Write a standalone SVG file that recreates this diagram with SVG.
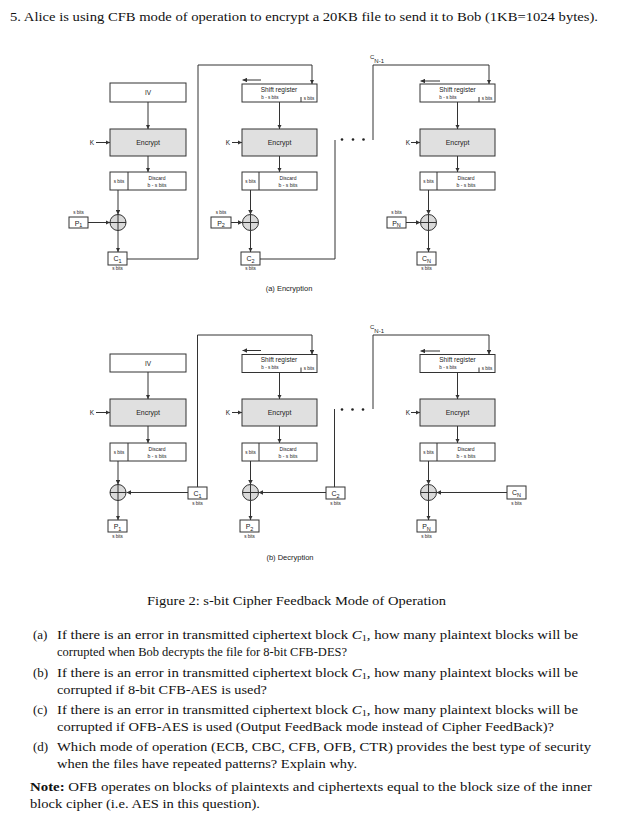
<svg xmlns="http://www.w3.org/2000/svg" width="626" height="823" viewBox="0 0 626 823">
<style>
.bg{fill:#fff}
.box{fill:#fff;stroke:#333;stroke-width:1}
.enc{fill:#e0e0e0;stroke:#333;stroke-width:1}
.ln{fill:none;stroke:#333;stroke-width:1}
.arr{marker-end:url(#ah)}
.xor{fill:#d9d9d9;stroke:#333;stroke-width:1}
.t{font-family:"Liberation Sans",Arial,sans-serif;fill:#222;text-anchor:middle}
.f7{font-size:7px}
.f65{font-size:6.5px}
.f5{font-size:5px}
.f45{font-size:4.6px}
.body{font-family:"Liberation Serif","Times New Roman",serif;font-size:13px;fill:#111}
</style>
<defs>
<marker id="ah" viewBox="0 0 6 6" refX="6" refY="3" markerWidth="4.5" markerHeight="4.5" markerUnits="userSpaceOnUse" orient="auto">
<path d="M0,0 L6,3 L0,6 z" fill="#333"/>
</marker>
</defs>
<rect class="bg" x="0" y="0" width="626" height="823"/>

<text class="body" x="10" y="21" textLength="588" lengthAdjust="spacingAndGlyphs">5. Alice is using CFB mode of operation to encrypt a 20KB file to send it to Bob (1KB=1024 bytes).</text>

<!-- ===== Encryption ===== -->
<g id="enc-col1">
<g id="enc-iv"><rect class="box" x="110" y="83" width="76" height="19"/><text class="t f65" x="148" y="95">IV</text></g>
<g id="enc-k1"><text class="t f65" x="92" y="145">K</text></g>
<g id="enc-encrypt1"><rect class="enc" x="110" y="129" width="76" height="27"/><text class="t f7" x="148" y="145">Encrypt</text></g>
<g id="enc-discard1"><rect class="box" x="110" y="172" width="76" height="18"/><line class="ln" x1="128" y1="172" x2="128" y2="190"/><text class="t f45" x="119" y="183">s bits</text><text class="t f5" x="157" y="179.5">Discard</text><text class="t f5" x="157" y="186.5">b - s bits</text></g>
<g id="enc-xor1"><circle class="xor" cx="118" cy="222.5" r="8"/><line class="ln" x1="110" y1="222.5" x2="126" y2="222.5"/><line class="ln" x1="118" y1="214.5" x2="118" y2="230.5"/></g>
<g id="enc-p1"><rect class="box" x="69" y="217" width="19" height="11"/><text class="t f7" x="78.5" y="225.5">P<tspan font-size="5.5" dy="1.5">1</tspan></text><text class="t f45" x="78.5" y="213.5">s bits</text></g>
<g id="enc-c1"><rect class="box" x="108" y="252" width="19" height="13"/><text class="t f7" x="117.5" y="261">C<tspan font-size="5.5" dy="2">1</tspan></text><text class="t f45" x="117.5" y="270">s bits</text></g>
</g>

<g id="enc-col2">
<g id="enc-sr2"><rect class="box" x="242" y="84" width="75" height="18"/><text class="t f65" x="279" y="91.5">Shift register</text><text class="t f45" x="270" y="98.5">b - s bits</text><line class="ln" x1="301" y1="97" x2="301" y2="102"/><text class="t f45" x="309" y="99.5">s bits</text></g>
<g id="enc-k2"><text class="t f65" x="228" y="145">K</text></g>
<g id="enc-encrypt2"><rect class="enc" x="242" y="129" width="75" height="27"/><text class="t f7" x="279.5" y="145">Encrypt</text></g>
<g id="enc-discard2"><rect class="box" x="242" y="172" width="75" height="18"/><line class="ln" x1="259" y1="172" x2="259" y2="190"/><text class="t f45" x="250.5" y="183">s bits</text><text class="t f5" x="288" y="179.5">Discard</text><text class="t f5" x="288" y="186.5">b - s bits</text></g>
<g id="enc-xor2"><circle class="xor" cx="250.5" cy="222.5" r="8"/><line class="ln" x1="242.5" y1="222.5" x2="258.5" y2="222.5"/><line class="ln" x1="250.5" y1="214.5" x2="250.5" y2="230.5"/></g>
<g id="enc-p2"><rect class="box" x="211" y="217" width="20" height="11"/><text class="t f7" x="221" y="225.5">P<tspan font-size="5.5" dy="1.5">2</tspan></text><text class="t f45" x="221" y="213.5">s bits</text></g>
<g id="enc-c2"><rect class="box" x="241" y="252" width="19" height="13"/><text class="t f7" x="250.5" y="261">C<tspan font-size="5.5" dy="2">2</tspan></text><text class="t f45" x="250.5" y="270">s bits</text></g>
</g>

<g id="enc-col3">
<g id="enc-cn1"><text class="t" font-size="6" x="377" y="59">C<tspan font-size="6" dy="3.5">N-1</tspan></text></g>
<g id="enc-sr3"><rect class="box" x="420" y="84" width="75" height="18"/><text class="t f65" x="457.5" y="91.5">Shift register</text><text class="t f45" x="448" y="98.5">b - s bits</text><line class="ln" x1="479" y1="97" x2="479" y2="102"/><text class="t f45" x="487" y="99.5">s bits</text></g>
<g id="enc-k3"><text class="t f65" x="408" y="145">K</text></g>
<g id="enc-encrypt3"><rect class="enc" x="420" y="129" width="75" height="27"/><text class="t f7" x="457.5" y="145">Encrypt</text></g>
<g id="enc-discard3"><rect class="box" x="420" y="172" width="75" height="18"/><line class="ln" x1="437" y1="172" x2="437" y2="190"/><text class="t f45" x="428.5" y="183">s bits</text><text class="t f5" x="466" y="179.5">Discard</text><text class="t f5" x="466" y="186.5">b - s bits</text></g>
<g id="enc-xor3"><circle class="xor" cx="428.5" cy="222.5" r="8"/><line class="ln" x1="420.5" y1="222.5" x2="436.5" y2="222.5"/><line class="ln" x1="428.5" y1="214.5" x2="428.5" y2="230.5"/></g>
<g id="enc-pn"><rect class="box" x="387" y="217" width="19" height="11"/><text class="t f7" x="396.5" y="225.5">P<tspan font-size="5.5" dy="1.5">N</tspan></text><text class="t f45" x="396.5" y="213.5">s bits</text></g>
<g id="enc-cn"><rect class="box" x="417" y="252" width="19" height="13"/><text class="t f7" x="426.5" y="261">C<tspan font-size="5.5" dy="2">N</tspan></text><text class="t f45" x="426.5" y="270">s bits</text></g>
</g>

<text class="t" font-size="7.5" x="289" y="291">(a) Encryption</text>

<g id="enc-connectors">
<path class="ln arr" d="M148,102 V129"/>
<path class="ln arr" d="M148,156 V172"/>
<path class="ln arr" d="M118,190 V214.5"/>
<path class="ln arr" d="M88,222.5 H110"/>
<path class="ln arr" d="M118,230.5 V252"/>
<path class="ln arr" d="M96,142.5 H110"/>
<path class="ln arr" d="M127,259 H198 V65 H312 V84"/>
<path class="ln arr" d="M261,80 H242.5"/>
<path class="ln arr" d="M279.5,102 V129"/>
<path class="ln arr" d="M279.5,156 V172"/>
<path class="ln arr" d="M250.5,190 V214.5"/>
<path class="ln arr" d="M231,222.5 H242.5"/>
<path class="ln arr" d="M250.5,230.5 V252"/>
<path class="ln arr" d="M232,142.5 H242"/>
<path class="ln" d="M260,259 H335 V140"/>
<circle cx="342" cy="139.5" r="1.3" fill="#222"/>
<circle cx="353" cy="139.5" r="1.3" fill="#222"/>
<circle cx="363.5" cy="139.5" r="1.3" fill="#222"/>
<path class="ln arr" d="M373,140 V65 H489 V84"/>
<path class="ln arr" d="M440,81 H420.5"/>
<path class="ln arr" d="M457.5,102 V129"/>
<path class="ln arr" d="M457.5,156 V172"/>
<path class="ln arr" d="M428.5,190 V214.5"/>
<path class="ln arr" d="M406,222.5 H420.5"/>
<path class="ln arr" d="M428.5,230.5 V252"/>
<path class="ln arr" d="M411,142.5 H420"/>
</g>

<!-- ===== Decryption ===== -->
<g id="dec-col1">
<g id="dec-iv"><rect class="box" x="110" y="354" width="76" height="18"/><text class="t f65" x="148" y="365.5">IV</text></g>
<g id="dec-k1"><text class="t f65" x="92" y="415">K</text></g>
<g id="dec-encrypt1"><rect class="enc" x="110" y="399" width="76" height="27"/><text class="t f7" x="148" y="415">Encrypt</text></g>
<g id="dec-discard1"><rect class="box" x="110" y="443" width="76" height="18"/><line class="ln" x1="128" y1="443" x2="128" y2="461"/><text class="t f45" x="119" y="454">s bits</text><text class="t f5" x="157" y="450.5">Discard</text><text class="t f5" x="157" y="457.5">b - s bits</text></g>
<g id="dec-xor1"><circle class="xor" cx="118" cy="492.5" r="8"/><line class="ln" x1="110" y1="492.5" x2="126" y2="492.5"/><line class="ln" x1="118" y1="484.5" x2="118" y2="500.5"/></g>
<g id="dec-c1"><rect class="box" x="188" y="487" width="19" height="12"/><text class="t f7" x="197.5" y="495.5">C<tspan font-size="5.5" dy="2">1</tspan></text><text class="t f45" x="197.5" y="504.5">s bits</text></g>
<g id="dec-p1"><rect class="box" x="108" y="520" width="19" height="12"/><text class="t f7" x="117.5" y="528.5">P<tspan font-size="5.5" dy="2">1</tspan></text><text class="t f45" x="117.5" y="537.5">s bits</text></g>
</g>

<g id="dec-col2">
<g id="dec-sr2"><rect class="box" x="242" y="354.5" width="75" height="18"/><text class="t f65" x="279" y="362">Shift register</text><text class="t f45" x="270" y="368.5">b - s bits</text><line class="ln" x1="301" y1="367.5" x2="301" y2="372.5"/><text class="t f45" x="309" y="370">s bits</text></g>
<g id="dec-k2"><text class="t f65" x="228" y="415">K</text></g>
<g id="dec-encrypt2"><rect class="enc" x="242" y="399" width="75" height="27"/><text class="t f7" x="279.5" y="415">Encrypt</text></g>
<g id="dec-discard2"><rect class="box" x="242" y="443" width="75" height="18"/><line class="ln" x1="259" y1="443" x2="259" y2="461"/><text class="t f45" x="250.5" y="454">s bits</text><text class="t f5" x="288" y="450.5">Discard</text><text class="t f5" x="288" y="457.5">b - s bits</text></g>
<g id="dec-xor2"><circle class="xor" cx="250.5" cy="492.5" r="8"/><line class="ln" x1="242.5" y1="492.5" x2="258.5" y2="492.5"/><line class="ln" x1="250.5" y1="484.5" x2="250.5" y2="500.5"/></g>
<g id="dec-c2"><rect class="box" x="326" y="487" width="19" height="12"/><text class="t f7" x="335.5" y="495.5">C<tspan font-size="5.5" dy="2">2</tspan></text><text class="t f45" x="335.5" y="504.5">s bits</text></g>
<g id="dec-p2"><rect class="box" x="240" y="520" width="19" height="12"/><text class="t f7" x="249.5" y="528.5">P<tspan font-size="5.5" dy="2">2</tspan></text><text class="t f45" x="249.5" y="537.5">s bits</text></g>
</g>

<g id="dec-col3">
<g id="dec-cn1"><text class="t" font-size="6" x="377" y="329">C<tspan font-size="6" dy="3.5">N-1</tspan></text></g>
<g id="dec-sr3"><rect class="box" x="420" y="354.5" width="75" height="18"/><text class="t f65" x="457.5" y="362">Shift register</text><text class="t f45" x="448" y="368.5">b - s bits</text><line class="ln" x1="479" y1="367.5" x2="479" y2="372.5"/><text class="t f45" x="487" y="370">s bits</text></g>
<g id="dec-k3"><text class="t f65" x="408" y="415">K</text></g>
<g id="dec-encrypt3"><rect class="enc" x="420" y="399" width="75" height="27"/><text class="t f7" x="457.5" y="415">Encrypt</text></g>
<g id="dec-discard3"><rect class="box" x="420" y="443" width="75" height="18"/><line class="ln" x1="437" y1="443" x2="437" y2="461"/><text class="t f45" x="428.5" y="454">s bits</text><text class="t f5" x="466" y="450.5">Discard</text><text class="t f5" x="466" y="457.5">b - s bits</text></g>
<g id="dec-xor3"><circle class="xor" cx="428.5" cy="492.5" r="8"/><line class="ln" x1="420.5" y1="492.5" x2="436.5" y2="492.5"/><line class="ln" x1="428.5" y1="484.5" x2="428.5" y2="500.5"/></g>
<g id="dec-cn"><rect class="box" x="507" y="486" width="19" height="13"/><text class="t f7" x="516.5" y="495">C<tspan font-size="5.5" dy="2">N</tspan></text><text class="t f45" x="516.5" y="504.5">s bits</text></g>
<g id="dec-pn"><rect class="box" x="417" y="520" width="19" height="12"/><text class="t f7" x="426.5" y="528.5">P<tspan font-size="5.5" dy="2">N</tspan></text><text class="t f45" x="426.5" y="537.5">s bits</text></g>
</g>

<text class="t" font-size="7.5" x="290" y="560">(b) Decryption</text>

<g id="dec-connectors">
<path class="ln arr" d="M148,372 V399"/>
<path class="ln arr" d="M148,426 V443"/>
<path class="ln arr" d="M118,461 V484.5"/>
<path class="ln arr" d="M96,412.5 H110"/>
<path class="ln arr" d="M188,492.5 H126.5"/>
<path class="ln arr" d="M118,500.5 V520"/>
<path class="ln arr" d="M197.5,487 V335 H312 V354.5"/>
<path class="ln arr" d="M261,350.5 H242.5"/>
<path class="ln arr" d="M279.5,372.5 V399"/>
<path class="ln arr" d="M279.5,426 V443"/>
<path class="ln arr" d="M250.5,461 V484.5"/>
<path class="ln arr" d="M232,412.5 H242"/>
<path class="ln arr" d="M326,492.5 H258.5"/>
<path class="ln arr" d="M250.5,500.5 V520"/>
<path class="ln" d="M334.5,487 V409"/>
<circle cx="342" cy="409.5" r="1.3" fill="#222"/>
<circle cx="352.5" cy="409.5" r="1.3" fill="#222"/>
<circle cx="363" cy="409.5" r="1.3" fill="#222"/>
<path class="ln arr" d="M373,409 V335 H489 V354.5"/>
<path class="ln arr" d="M440,351 H420.5"/>
<path class="ln arr" d="M457.5,372.5 V399"/>
<path class="ln arr" d="M457.5,426 V443"/>
<path class="ln arr" d="M428.5,461 V484.5"/>
<path class="ln arr" d="M411,412.5 H420"/>
<path class="ln arr" d="M507,492.5 H436.5"/>
<path class="ln arr" d="M428.5,500.5 V520"/>
</g>

<!-- ===== Text ===== -->
<text class="body" x="147" y="605" textLength="299" lengthAdjust="spacingAndGlyphs">Figure 2: s-bit Cipher Feedback Mode of Operation</text>

<text class="body" x="33" y="639">(a)</text>
<text class="body" x="57" y="639" textLength="521" lengthAdjust="spacingAndGlyphs">If there is an error in transmitted ciphertext block <tspan font-style="italic">C</tspan><tspan font-size="9" dy="2">1</tspan><tspan dy="-2">, how many plaintext blocks will be</tspan></text>
<text class="body" x="57" y="656" textLength="290" lengthAdjust="spacingAndGlyphs">corrupted when Bob decrypts the file for 8-bit CFB-DES?</text>

<text class="body" x="33" y="677">(b)</text>
<text class="body" x="57" y="677" textLength="521" lengthAdjust="spacingAndGlyphs">If there is an error in transmitted ciphertext block <tspan font-style="italic">C</tspan><tspan font-size="9" dy="2">1</tspan><tspan dy="-2">, how many plaintext blocks will be</tspan></text>
<text class="body" x="57" y="694" textLength="210" lengthAdjust="spacingAndGlyphs">corrupted if 8-bit CFB-AES is used?</text>

<text class="body" x="33" y="714">(c)</text>
<text class="body" x="57" y="714" textLength="521" lengthAdjust="spacingAndGlyphs">If there is an error in transmitted ciphertext block <tspan font-style="italic">C</tspan><tspan font-size="9" dy="2">1</tspan><tspan dy="-2">, how many plaintext blocks will be</tspan></text>
<text class="body" x="57" y="731" textLength="497" lengthAdjust="spacingAndGlyphs">corrupted if OFB-AES is used (Output FeedBack mode instead of Cipher FeedBack)?</text>

<text class="body" x="33" y="751">(d)</text>
<text class="body" x="57" y="751" textLength="534" lengthAdjust="spacingAndGlyphs">Which mode of operation (ECB, CBC, CFB, OFB, CTR) provides the best type of security</text>
<text class="body" x="57" y="768" textLength="300" lengthAdjust="spacingAndGlyphs">when the files have repeated patterns? Explain why.</text>

<text class="body" x="30" y="791" textLength="562" lengthAdjust="spacingAndGlyphs"><tspan font-weight="bold">Note:</tspan> OFB operates on blocks of plaintexts and ciphertexts equal to the block size of the inner</text>
<text class="body" x="30" y="808" textLength="230" lengthAdjust="spacingAndGlyphs">block cipher (i.e. AES in this question).</text>
</svg>
